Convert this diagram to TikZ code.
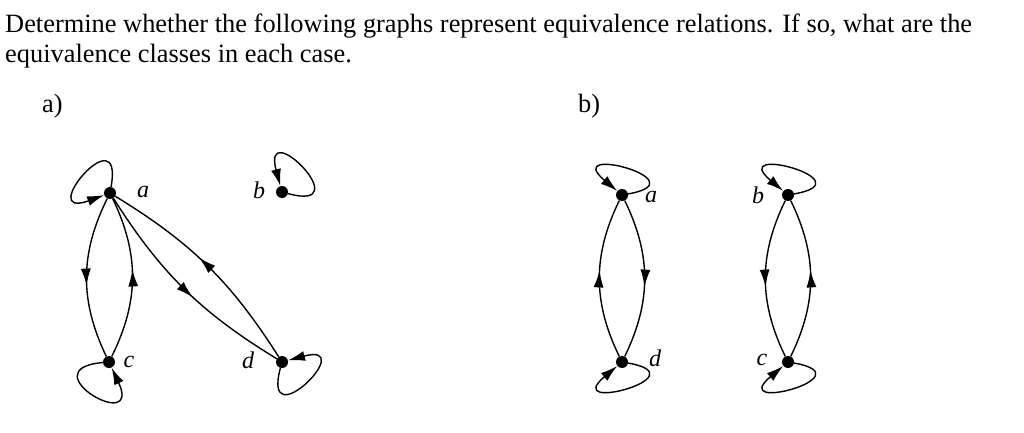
\documentclass[tikz,border=0pt]{standalone}
\usepackage{fontspec}
\setmainfont{Liberation Serif}
\usetikzlibrary{arrows.meta,decorations.markings}
\begin{document}
\begin{tikzpicture}[x=1pt,y=-1pt,
  vtx/.style={circle,fill=black,inner sep=0pt,minimum size=12pt},
  lab/.style={font=\fontsize{24}{24}\selectfont\itshape,inner sep=0pt},
  edge/.style={line width=1.4pt},
  mid/.style={edge,postaction={decorate},decoration={markings,mark=at position 0.55 with {\arrow{Latex[length=17pt,width=10pt]}}}},
  lp/.style={edge,-{Latex[length=17pt,width=10pt]},distance=75pt}]
\useasboundingbox (0,0) rectangle (1024,433);
\node[anchor=base west,inner sep=0pt,font=\fontsize{26.4}{30}\selectfont] (t1) at (5,33) {Determine whether the following graphs represent equivalence relations. If so, what are the};
\node[anchor=base west,inner sep=0pt,font=\fontsize{26.4}{30}\selectfont] (t2) at (5,63) {equivalence classes in each case.};
\node[anchor=base west,inner sep=0pt,font=\fontsize{26.4}{30}\selectfont] (pa) at (42,113) {a)};
\node[anchor=base west,inner sep=0pt,font=\fontsize{26.4}{30}\selectfont] (pb) at (578,113) {b)};
% graph a
\node[vtx] (a) at (110,193) {};
\node[vtx] (b) at (282,192) {};
\node[vtx] (c) at (109,362) {};
\node[vtx] (d) at (282,362) {};
\node[lab] at (143,192) {a};
\node[lab] at (259,190) {b};
\node[lab] at (129,362) {c};
\node[lab] at (248,360) {d};
\draw[lp] (a) to[out=80,in=200] (a);
\draw[lp] (b) to[out=-15,in=105] (b);
\draw[lp] (c) to[out=185,in=-65] (c);
\draw[lp] (d) to[out=-105,in=15] (d);
\draw[mid] (a) to[bend right=26] (c);
\draw[mid] (c) to[bend right=26] (a);
\draw[mid] (a) to[bend right=13] (d);
\draw[mid] (d) to[bend right=13] (a);
% graph b
\node[vtx] (a2) at (622,195) {};
\node[vtx] (d2) at (622,362) {};
\node[vtx] (b2) at (788,195) {};
\node[vtx] (c2) at (788,362) {};
\node[lab] at (651,197) {a};
\node[lab] at (655,358) {d};
\node[lab] at (758,195) {b};
\node[lab] at (762,360) {c};
\draw[lp] (a2) to[out=10,in=140] (a2);
\draw[lp] (b2) to[out=10,in=140] (b2);
\draw[lp] (d2) to[out=-10,in=220] (d2);
\draw[lp] (c2) to[out=-10,in=220] (c2);
\draw[mid] (a2) to[bend left=26] (d2);
\draw[mid] (d2) to[bend left=26] (a2);
\draw[mid] (b2) to[bend right=26] (c2);
\draw[mid] (c2) to[bend right=26] (b2);
\end{tikzpicture}
\end{document}
